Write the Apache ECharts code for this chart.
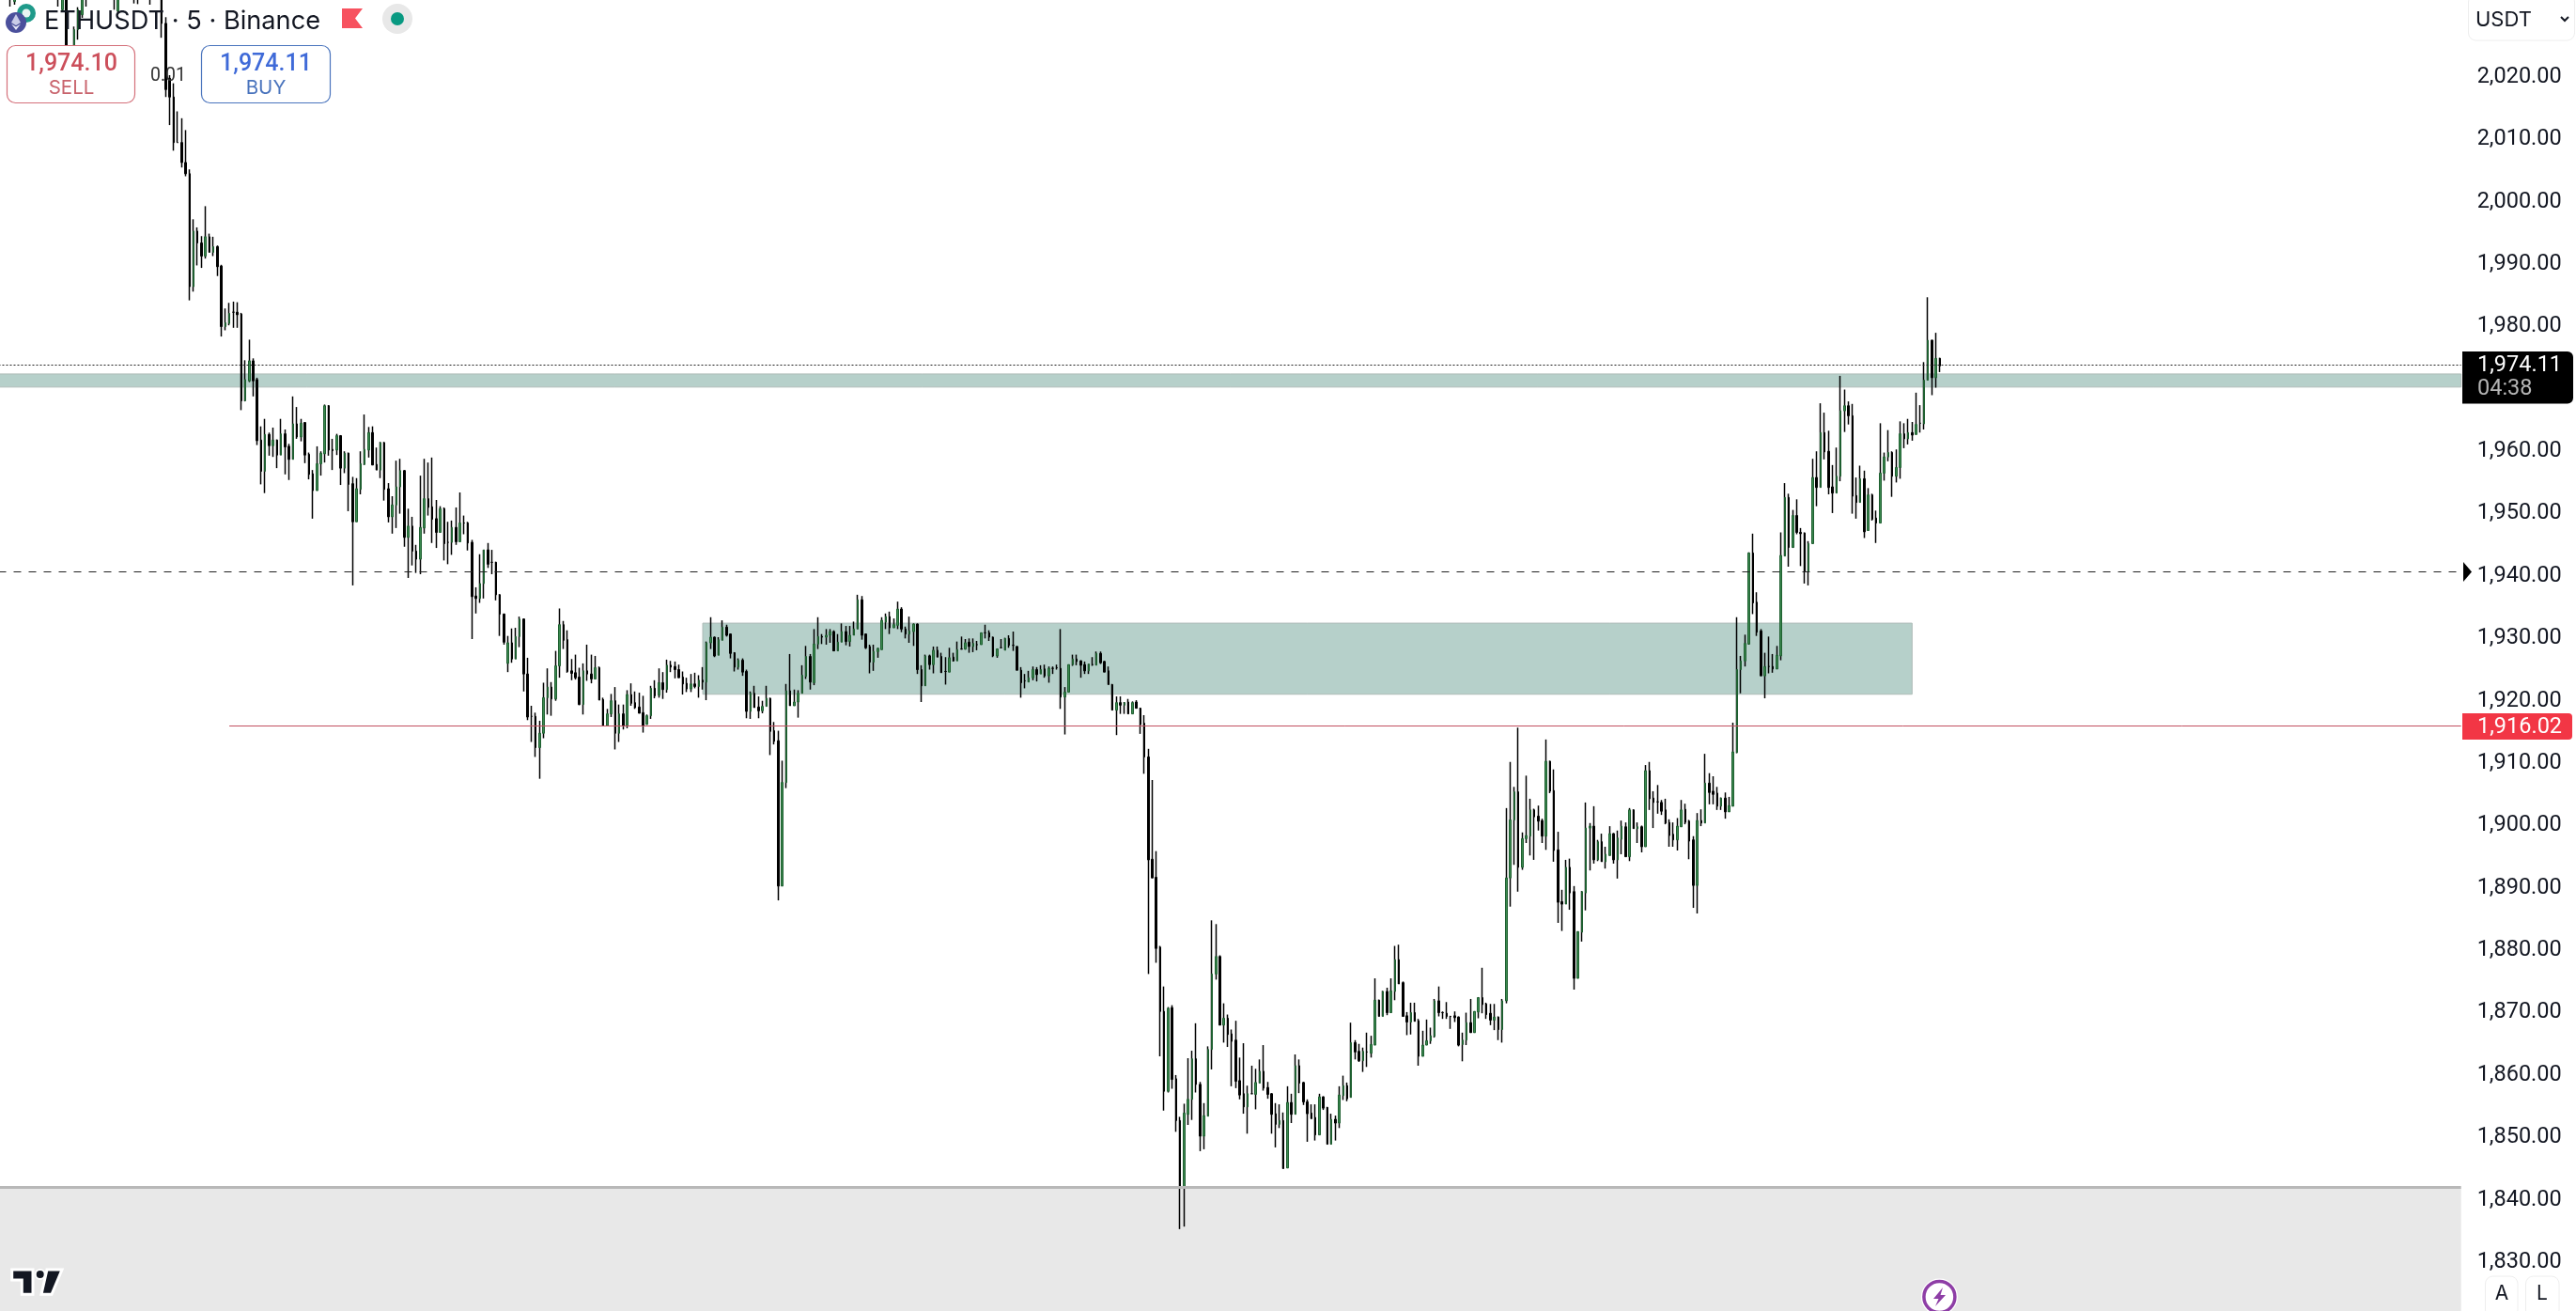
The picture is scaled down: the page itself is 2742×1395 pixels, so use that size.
<!DOCTYPE html>
<html><head><meta charset="utf-8">
<style>html,body{margin:0;padding:0;background:#fff}#c{width:2742px;height:1395px}</style>
<script src="https://cdn.jsdelivr.net/npm/echarts@6/dist/echarts.min.js"></script>
</head><body><div id="c"></div>
<script>
// every row is [open, high, low, close]
const aboveWindow=[
[2040,2042,2038,2041],[2040,2042,2038,2041],[2040,2042,2038,2041],[2037,2040,2031.3,2038],[2032.1,2038,2031.6,2036],
[2040,2042,2038,2041],[2040,2042,2038,2041],[2040,2042,2038,2041],[2040,2042,2038,2041],[2040,2042,2038,2041],
[2040,2042,2038,2041],[2040,2042,2038,2041],[2040,2042,2038,2041],[2040,2042,2038,2041],[2040,2042,2038,2041],
[2038,2041,2031.3,2036],[2030.8,2037,2030.5,2035],[2036,2038,2022,2024],[2036,2037,2034,2035],[2022,2028.1,2021,2027.6],
[2027.6,2031.2,2026,2030.8],[2030,2034,2029.5,2033.5],[2037,2040,2031.3,2038],[2040,2042,2038,2041],[2040,2042,2038,2041],
[2040,2042,2038,2041],[2040,2042,2038,2041],[2040,2042,2038,2041],[2040,2042,2038,2041],[2037,2040,2030.8,2038],
[2030.6,2037,2030.4,2036],[2040,2042,2038,2041],[2040,2042,2038,2041],[2040,2042,2038,2041],[2037,2040,2031.8,2038],
[2037,2040,2031.7,2038],[2040,2042,2038,2041],[2040,2042,2038,2041],[2037,2040,2031.6,2038],[2040,2042,2038,2041],
[2040,2042,2038,2041]];
const firstDrop=[
[2036,2038,2026.3,2028.6],[2028.6,2029.6,2016.8,2018],[2019.8,2020.3,2012.3,2016.8],[2016.8,2019,2008.2,2009.5],[2009.5,2014.5,2009.5,2009.5],
[2009.5,2013.4,2005.5,2006.3],[2006.3,2011.5,2004.1,2004.5],[2004.5,2005.2,1984.2,1986.4],[1986.4,1997.2,1985.6,1995.3],[1995.3,1995.9,1989.8,1993.4],
[1993.4,1994.5,1989.4,1991.3],[1991.3,1999.3,1990.9,1994.4],[1994.4,1994.9,1991.9,1991.9],[1991.9,1994.4,1991.3,1992.8],[1992.8,1993,1988.1,1989.6],
[1989.7,1989.9,1978.4,1980],[1980,1982.9,1979.4,1980.6],[1980.5,1983.8,1980.2,1982.1],[1982.3,1984,1979.8,1982.3],[1982.3,1983.9,1979.8,1981.9],
[1982,1982.2,1966.6,1968.1],[1968.1,1974.6,1968,1971.5],[1971.3,1977.9,1971.1,1974.5],[1974.5,1974.9,1968.8,1971.3],[1971.5,1971.8,1961,1961.7],
[1961.8,1964,1954.7,1956.8],[1956.8,1965.2,1953.3,1962.7],[1962.7,1963,1959.3,1960.9],[1960.9,1963.8,1959.1,1961.8],[1961.8,1961.9,1957.3,1959.4]];
const stepDown=[
[1959.4,1965.2,1959.4,1962.8],[1962.8,1963.5,1956.3,1960.7],[1960.8,1961.2,1955.4,1958.7],[1958.7,1968.8,1958.7,1964.4],[1964.4,1967.1,1962,1962.3],
[1962.3,1965.2,1961.6,1964.5],[1964.6,1964.7,1958.1,1959.4],[1959.5,1959.8,1955.5,1956.3],[1956.4,1957,1949.2,1953.7],[1953.7,1960.8,1953.7,1958],
[1958,1960,1956.1,1959.7],[1959.6,1967.5,1958.2,1967.3],[1967.3,1967.4,1959.3,1960.2],[1960.3,1962,1957,1960.1],[1960.2,1962.8,1959.4,1962.5],
[1962.5,1962.6,1954.6,1957.3],[1957.3,1960,1956.5,1959.7],[1959.7,1959.8,1950.4,1954.7],[1954.8,1955.9,1938.5,1948.7],[1948.7,1955.7,1948.7,1954],
[1953.9,1960,1953.1,1958],[1957.9,1965.9,1957.8,1960.3],[1960.2,1963.9,1959,1963],[1963,1964,1957.8,1957.8],[1957.9,1960.6,1957,1957],
[1957,1961.5,1955.7,1961.4],[1961.4,1961.5,1952.1,1953.9],[1954,1954.9,1948.6,1949.5],[1949.5,1952.8,1946.8,1951.4],[1951.4,1958.5,1947.7,1954.3],
[1954.3,1958.8,1950,1956.9],[1956.9,1957,1944.7,1946.2],[1946.2,1950.8,1939.7,1948],[1948,1949.5,1941.7,1944],[1944,1945,1940.5,1942.7],
[1942.7,1956.1,1940.3,1947.8],[1947.7,1958.8,1946.8,1952.4],[1952.4,1958.2,1949.7,1951],[1951.1,1959,1945.3,1949.1],[1949.2,1952.2,1944.5,1947],
[1947,1951.2,1947,1950.8],[1950.8,1951,1942.5,1945.2],[1945.4,1948.7,1941.9,1945.4],[1945.4,1948.9,1943.4,1947.8],[1947.8,1951,1945,1945.5],
[1945.5,1953.4,1945.5,1948.5],[1948.5,1949.7,1946.7,1948.5],[1948.5,1948.7,1944.1,1945.3],[1945.4,1945.8,1929.9,1936.7],[1936.8,1938.2,1934,1936.4],
[1936.4,1943.5,1935.7,1938.8],[1938.8,1944.2,1936.4,1944.2],[1944.2,1945.3,1941.3,1941.9],[1942.2,1944.2,1940.3,1942.2],[1942.2,1942.3,1936.1,1937],
[1937,1937.1,1930.4,1933.9],[1933.9,1934,1929,1929.4]];
const firstBase=[
[1926,1930.4,1924.6,1929.3],[1929.3,1931.6,1926.1,1926.7],[1926.7,1931.7,1926.7,1930.3],[1930.3,1933.5,1928.6,1933.1],[1933.1,1933.2,1921.5,1924.3],
[1924.3,1926.9,1916.9,1917.4],[1917.5,1919.2,1913.4,1917.5],[1917.5,1918.1,1911,1912.5],[1912.5,1916.8,1907.5,1914.8],[1914.8,1922.9,1914,1920.5],
[1920.5,1925.2,1917.8,1922.2],[1922.2,1923,1917.6,1920.3],[1920.3,1928,1920,1925.6],[1925.6,1934.8,1923.7,1932.2],[1932.2,1932.8,1928.3,1929.7],
[1929.8,1931.3,1924.5,1924.7],[1924.8,1926.7,1923.3,1924.4],[1924.5,1927.4,1923.4,1923.7],[1923.8,1925.3,1919.3,1919.4],[1919.4,1926,1917.8,1924.8],
[1924.8,1929,1923.2,1924.3],[1924.3,1927.4,1922.8,1923.5],[1923.5,1927.2,1923.5,1925.3],[1925.3,1925.5,1920.1,1920.1],[1920.2,1920.5,1916,1916],
[1916,1918.7,1916,1917.9],[1917.9,1921.1,1917.4,1920],[1920,1922.2,1912.2,1914.8],[1914.8,1919.4,1913.4,1917.9],[1917.9,1919.4,1915.4,1916],
[1916,1921.7,1915.6,1921],[1921,1922.8,1919.2,1919.6],[1919.7,1921.5,1918.7,1918.9],[1919,1921.3,1918,1918],[1918.1,1920.8,1914.9,1916],
[1916.2,1917.8,1916.2,1917.6],[1917.6,1922.4,1917.1,1922],[1922,1923.3,1920.4,1920.8],[1920.9,1925.2,1920.5,1922.9],[1922.9,1924.6,1920.3,1921.8],
[1921.8,1926.6,1921.3,1925.7],[1925.7,1926.4,1924.6,1925.4],[1925.5,1926.3,1923.6,1925],[1925,1925.8,1923.7,1923.7],[1923.8,1924.7,1921,1922.7],
[1922.8,1923.7,1921.4,1921.9],[1921.9,1924.3,1921.4,1922.7],[1922.7,1924.5,1922,1922.3],[1922.3,1924.1,1920.5,1923.3],[1923.3,1925.4,1921.8,1923],
[1923,1929.5,1920.1,1929.3],[1929.3,1933.4,1928.3,1930.2],[1930.2,1930.3,1927,1927.2],[1927.3,1930.2,1927.3,1929.8],[1929.7,1932.9,1929.7,1931.8],
[1931.8,1932.2,1930.3,1930.5],[1930.7,1930.8,1926.8,1927.6],[1927.7,1927.8,1924.7,1925.4],[1925.4,1926.8,1925,1926.5],[1926.5,1926.8,1924,1924.6],
[1924.7,1925,1917.2,1918.3],[1918.3,1921.5,1917.1,1921.2],[1921.2,1922.4,1918.9,1918.9],[1919,1920.7,1917.2,1918.4],[1918.4,1920,1918,1919.1],
[1919.1,1922.4,1919.1,1920.4],[1920.4,1920.5,1911.3,1915.1],[1915.2,1916.6,1913,1913.5],[1913.6,1915.2,1888,1890.3],[1890.3,1910.4,1890.3,1906.9],
[1906.9,1922.7,1906,1921.6],[1921.6,1927.5,1919.2,1919.2],[1919.2,1921.8,1919.2,1919.8],[1919.8,1921.7,1917.3,1921.2],[1921.2,1925.7,1921.2,1924.1]];
const zoneTop=[
[1923.9,1928.8,1923.5,1927.1],[1927.1,1927.5,1921.8,1923],[1922.9,1931.5,1922.5,1929.1],[1929.1,1933.4,1928.3,1930.3],[1930.3,1930.7,1929.1,1930.2],
[1930.2,1931.5,1929,1930.5],[1930.5,1931.5,1929.3,1931.1],[1931.1,1931.3,1928,1928],[1928,1930.7,1928,1929.4],[1929.4,1932.4,1929.4,1931.1],
[1931.1,1932,1928.9,1929.5],[1929.5,1932,1928.7,1930.5],[1930.5,1932.7,1930.5,1931.5],[1931.5,1937,1931.5,1936.2],[1936.2,1936.8,1929.8,1930.5],
[1930.7,1930.8,1928.3,1928.5],[1928.7,1929,1924.4,1926.2],[1926.2,1929,1924.8,1927.9],[1927.9,1928.5,1926.9,1928.4],[1928.2,1933.4,1928.2,1932.9],
[1932.6,1934,1931.5,1933.5],[1933.5,1934.3,1930.7,1931.7],[1931.7,1933.2,1931.7,1932.2],[1932.1,1935.9,1931.5,1934.7],[1934.7,1935,1931,1931.5],
[1931.5,1931.9,1930,1930.7],[1930.7,1933.5,1929.3,1931.2],[1931.1,1932.4,1928.8,1932.3],[1932.3,1932.4,1924.3,1925],[1925,1925.7,1919.8,1922.4],
[1922.4,1927.4,1922.4,1927.2],[1927.2,1927.4,1925,1925.8],[1925.8,1928.7,1924.4,1928.1],[1928.1,1928.7,1927,1927],[1927.1,1927.7,1924.5,1924.5],
[1924.7,1927,1922.6,1924.7],[1924.6,1928.5,1924.6,1926.9],[1927,1927.7,1926.3,1926.4],[1926.4,1929.5,1926.4,1928.2],[1928.3,1930.3,1928.2,1928.3],
[1928.3,1929.9,1928.2,1929.3],[1929.4,1930,1927.7,1928.7],[1928.7,1930,1927.8,1929.2],[1929,1929.6,1928.1,1929],[1929,1930.9,1929,1930.9],
[1930.9,1932.2,1930,1930.9],[1930.9,1931.3,1929.6,1930.2],[1930.2,1930.3,1927,1927.2],[1927.2,1928.4,1926.9,1928.3],[1928.5,1929.9,1928.5,1928.5],
[1928.1,1930.1,1928.1,1930],[1930,1930.5,1928.5,1928.9],[1928.9,1931.1,1928,1928.9],[1928.7,1928.8,1924.9,1924.9],[1924.9,1925.4,1920.5,1922.9],
[1923.2,1924.3,1922,1923.2],[1923,1924.8,1923,1923.7],[1923.7,1925.5,1923.3,1925],[1925,1925.4,1923.1,1924.2],[1924.3,1925.7,1924.3,1925],
[1925.1,1925.8,1923.7,1924],[1924,1925.5,1922.9,1925.2],[1925.2,1925.5,1924.3,1925.2],[1925.3,1925.8,1925,1925.3],[1925.2,1931.5,1918.7,1920.6],
[1920.6,1922.2,1914.6,1921.4],[1921.4,1925.8,1921.4,1925.8],[1925.8,1927.4,1925.6,1926.7],[1926.7,1927.4,1925.7,1926.3],[1926.4,1926.5,1923.7,1925.7],
[1925.8,1926.3,1924.3,1924.8],[1924.8,1925.9,1924.3,1925.9],[1925.8,1927,1925.6,1925.8],[1925.7,1927.9,1925.7,1927.6],[1927.6,1927.9,1925.9,1926.1],
[1926.3,1926.4,1924.6,1924.6],[1924.8,1925.5,1922.6,1922.6],[1922.6,1922.7,1918.5,1918.5],[1918.5,1920.7,1914.5,1919.7],[1919.7,1920.7,1917.9,1919.3],
[1919.3,1919.8,1917.9,1919.7],[1919.8,1920.3,1917.9,1917.9],[1917.9,1919.9,1917.9,1919.7],[1919.8,1920.1,1918.8,1918.8],[1918.8,1918.9,1914.7,1916.2]];
const crash=[
[1916.4,1917.7,1908.3,1911],[1911,1912.3,1876.2,1894.5],[1894.6,1907.3,1891.6,1891.6],[1891.7,1895.9,1878,1880.3],[1880.5,1880.7,1863,1870.2],
[1870.2,1874.2,1854.3,1857.4],[1857.4,1870.9,1857.2,1870.7],[1870.8,1871.2,1857.8,1859.3],[1859.4,1860,1850.9,1852.7],[1852.7,1853.3,1835.3,1842.1],
[1842.1,1855.4,1835.7,1853.9],[1853.7,1862.7,1852,1856.1],[1856.1,1863.9,1852.8,1862.6],[1862.6,1868.3,1857.2,1858.5],[1858.5,1858.9,1847.8,1850.2],
[1850.2,1855.5,1848.1,1853.5],[1853.4,1864.6,1853.4,1864.1],[1864.1,1884.8,1860.9,1876.2],[1876.2,1884.2,1875.3,1879],[1879,1879.2,1868,1868],
[1868,1871.5,1865.2,1869.1],[1869.1,1869.7,1864.5,1866.5],[1866.6,1867.3,1858.2,1865.4],[1865.6,1868.7,1857.9,1859],[1859.1,1862.8,1856.1,1856.8]];
const bottomRange=[
[1857,1865.1,1853.8,1854.9],[1854.9,1858.3,1850.6,1857],[1857,1861.5,1857,1857],[1856.9,1861,1854.5,1858.8],[1858.7,1862.5,1858.7,1860.6],
[1860.6,1864.8,1857.5,1857.9],[1858,1858.9,1856.2,1856.9],[1857,1857.1,1850.6,1853.7],[1853.8,1855.5,1848.4,1852.1],[1852.1,1855.3,1851.5,1852.7],
[1852.7,1854,1845,1845],[1845.1,1858.2,1845.1,1855.6],[1855.6,1857,1852.3,1853.7],[1853.7,1863.3,1853.7,1861.5],[1861.5,1862.5,1857.1,1858.7],
[1858.8,1858.9,1855.2,1855.7],[1855.7,1856.1,1849.3,1853.8],[1853.9,1855.3,1853,1853],[1853.2,1855.3,1849.5,1850.4],[1850.4,1857,1850.4,1856.5],
[1856.5,1856.6,1854.4,1854.7],[1854.8,1854.9,1848.9,1848.9],[1848.9,1853.8,1848.9,1852.9],[1852.9,1853.5,1849.5,1852.3],[1852.3,1858.2,1851.5,1856.8],
[1856.7,1859.9,1856,1858.3],[1858.3,1858.8,1855.8,1856.2],[1856.4,1868.4,1856.4,1865.2],[1865.2,1865.6,1862.5,1863.7],[1863.8,1865,1862.1,1862.3],
[1862.3,1864.4,1860.5,1863.8],[1863.7,1866.8,1861.3,1863.7],[1863.5,1866.3,1862.8,1864.9],[1864.8,1875.5,1864.8,1872],[1872,1872.1,1869.4,1869.4],
[1869.4,1873.5,1869.4,1873.4],[1873.4,1874,1869.6,1870],[1870,1875.5,1870,1873.5],[1873.4,1880.7,1872,1878.5],[1878.5,1880.9,1874.6,1874.6],
[1874.8,1875,1869.4,1869.4],[1869.5,1870.1,1866.4,1868.5],[1868.5,1871.6,1866.5,1870],[1870,1871.6,1868.6,1868.6],[1868.7,1869,1861.5,1863],
[1863,1867.1,1863,1864.8],[1864.8,1868.9,1864.8,1865.5],[1865.5,1867.6,1865,1866.3],[1866.2,1872.2,1866,1871.9],[1871.9,1874.2,1869.4,1870],
[1870,1870.2,1869,1870],[1869.9,1871.7,1869,1869.4],[1869.4,1869.5,1867.4,1869.4],[1869.5,1870.2,1868.5,1869.2],[1869.3,1869.4,1864.6,1864.8],
[1864.9,1866.8,1862.2,1865.6],[1865.6,1870,1864.8,1868.4],[1868.4,1872.2,1866.8,1866.8],[1866.8,1870.2,1866.8,1870.2],[1870.1,1872.5,1869.1,1872.4],
[1872.4,1877.2,1869.9,1871.3],[1871.4,1871.6,1869,1869.7],[1869.9,1871.4,1868,1868.8],[1868.8,1871.4,1867.2,1869.3],[1869.3,1869.4,1865.6,1867.3],
[1867.3,1872.2,1865.2,1871.9]];
const secondLeg=[
[1871.9,1902.8,1871.5,1891.6],[1891.6,1910.2,1887,1900.9],[1900.9,1906.2,1893.7,1905.4],[1905.4,1915.7,1889.4,1893.3],[1893.3,1898.9,1892.9,1897.9],
[1897.9,1908,1897.2,1898.4],[1898.3,1904.3,1895.2,1902.5],[1902.5,1902.7,1894.5,1901.4],[1901.5,1903.2,1899.2,1900.7],[1900.8,1901.1,1897.2,1898.3],
[1898.3,1913.8,1896.1,1910.3],[1910.3,1910.4,1905.2,1905.5],[1905.6,1909,1894.2,1896],[1896.1,1899,1884.4,1887.7],[1887.8,1889.7,1883.1,1887.4],
[1887.4,1894.5,1887.4,1893.3],[1893.3,1894.7,1886.5,1889.2],[1889.4,1890.3,1873.7,1875.5],[1875.5,1883,1875.5,1883],[1882.9,1889.5,1881.4,1889.4],
[1889.2,1903.7,1886.4,1899.6],[1899.6,1900.4,1892.8,1899.9],[1899.9,1903.1,1893.9,1894.5],[1894.5,1897.7,1894.3,1897.4],[1897.4,1898.7,1894.2,1894.2],
[1894.2,1896.6,1893.1,1895.4],[1895.2,1899.9,1895.2,1898.7],[1898.7,1898.8,1893.9,1894.5],[1894.5,1899.2,1891.5,1898],[1897.8,1900.8,1895.4,1899.9],
[1899.8,1900.5,1895,1895],[1895,1902.8,1894.3,1902.5],[1902.5,1902.6,1899.5,1899.5],[1899.5,1900.5,1897.2,1899.8],[1899.8,1900,1895.7,1896.6],
[1896.6,1909.7,1896.6,1908.8],[1908.8,1910.2,1902.5,1904.3],[1904.4,1905.5,1899.6,1903.7],[1903.8,1906.5,1901.9,1903.8],[1903.7,1904.1,1901.7,1902.3],
[1902.5,1904.3,1900.2,1900.4],[1900.5,1901,1896.6,1898.4],[1898.6,1900.5,1896.6,1897.7],[1897.7,1901.2,1896,1899.9],[1899.8,1904.1,1899.8,1902.5],
[1902.6,1903.5,1900.2,1900.5],[1900.7,1900.9,1894.6,1897.5],[1897.7,1898.3,1886.8,1890.4],[1890.4,1902,1885.9,1900.8],[1900.8,1902.6,1899.9,1900.4],
[1900.4,1911.5,1900.4,1906.8],[1906.8,1908.4,1903.4,1905.3],[1905.5,1907.9,1903.4,1905],[1905.2,1906.2,1902.5,1903.1],[1903.1,1904.5,1902.5,1904.4],
[1904.4,1905.3,1901.1,1902.2],[1902.2,1904.6,1902.2,1903.2],[1903.1,1916.5,1903.1,1911.8]];
const finalRally=[
[1911.7,1933.4,1911.6,1925],[1925,1927.2,1921.2,1926.4],[1926.4,1930.6,1925.5,1929.2],[1929.1,1943.8,1929,1943.7],[1943.7,1946.8,1933.9,1935.7],
[1935.8,1937.4,1930.4,1931],[1931.2,1931.5,1924,1924],[1924,1927.7,1920.4,1925.5],[1925.5,1930.3,1924.4,1925.5],[1925.5,1927.5,1924.5,1925.1],
[1925.1,1928.8,1925.1,1927.3],[1927.2,1947,1926.5,1943.3],[1943.2,1954.9,1943.2,1952.6],[1952.6,1953.2,1941.5,1944.6],[1944.6,1950.6,1944.5,1949.7],
[1949.7,1952.3,1946.7,1947],[1947,1947.7,1941.6,1946.8],[1946.9,1947,1938.8,1940.7],[1940.7,1945.6,1938.5,1945.2],[1945.2,1958.8,1945.2,1955.8],
[1955.8,1960,1951.2,1954.2],[1954.2,1967.7,1954.2,1963],[1963,1966.2,1958.7,1959.9],[1960,1963.3,1953.1,1954.2],[1954.3,1957.8,1950.1,1953.3],
[1953.3,1960.6,1953.3,1956],[1956,1972.1,1955.2,1966.5],[1966.5,1969.9,1963.1,1967.3],[1967.3,1968,1964.3,1965.7],[1965.7,1967.6,1950,1952.8],
[1952.9,1955.8,1949.2,1951.8],[1951.8,1957.7,1951.8,1955.6],[1955.6,1956.9,1946.1,1947.1],[1947.3,1954.1,1947.3,1953],[1953,1953.2,1948.9,1949.1],
[1949.3,1950.5,1945.3,1948.5],[1948.5,1964.5,1948.5,1956.5],[1956.5,1959.8,1955.3,1959.1],[1959.1,1963.4,1958.4,1959.8],[1959.8,1960,1952.7,1956],
[1956,1960.3,1955,1957.4],[1957.4,1964.8,1955.6,1962.8],[1962.8,1964.5,1960.5,1962],[1962,1965.2,1961.1,1963],[1963,1964.7,1961.7,1962.6],
[1962.7,1969.4,1962.7,1964.3],[1964.5,1967.4,1963,1964.5],[1964.4,1974.3,1963.5,1971.4],[1971.4,1984.7,1971.4,1977.8],[1977.8,1977.9,1969,1971.8],
[1971.8,1979,1970.2,1974.9],[1974.9,1975,1972.7,1973.7]];
const lastPriceLabel='1,974.11', sellPrice='1,974.10', buyPrice='1,974.11', countdown='04:38', lotSize='0.01';
const redLevel=1916.02, redLabel='1,916.02', dottedLevel=1973.8, dashedLevel=1940.7, floorLevel=1842;
const upperZone=[1970.3,1972.4], middleZone=[1921.05,1932.45];
const yTickMin=1820, yTickMax=2040, yTickStep=10;

const rows=[].concat(aboveWindow,firstDrop,stepDown,firstBase,zoneTop,crash,bottomRange,secondLeg,finalRally);
const N=620;
const cats=Array.from({length:N},(_,i)=>String(i));
const wicks=rows.map(r=>[r[0],r[3],r[2],r[1]]);
const bodies=rows.map(r=>[r[0],r[3],Math.min(r[0],r[3]),Math.max(r[0],r[3])]);
const UP='#3c8a50',UPB='#1e5f30',DN='#000';
const F='Inter, "Liberation Sans", sans-serif', D='Roboto, "Liberation Sans", sans-serif';
const txt=(text,x,y,font,fill,align)=>({type:'text',z:100,silent:true,style:{text,x,y,font,fill,align:align||'center',verticalAlign:'middle'}});
const box=(x,y,w,h,r,fill,stroke,lw)=>({type:'rect',z:100,silent:true,shape:{x,y,width:w,height:h,r},style:{fill,stroke:stroke||null,lineWidth:lw||0}});
const poly=(points,fill,stroke,lw)=>({type:'polygon',z:100,silent:true,shape:{points},style:{fill,stroke:stroke||null,lineWidth:lw||0}});
const circ=(cx,cy,r,fill,stroke,lw)=>({type:'circle',z:100,silent:true,shape:{cx,cy,r},style:{fill,stroke:stroke||null,lineWidth:lw||0}});

const chart=echarts.init(document.getElementById('c'),null,{renderer:'canvas'});
chart.setOption({
 animation:false,backgroundColor:'#fff',
 grid:{left:-1.5,top:-50.74,width:2621.16,height:1460.14,containLabel:false,outerBoundsMode:'none'},
 xAxis:{type:'category',data:cats,boundaryGap:false,show:false},
 yAxis:{type:'value',position:'right',min:yTickMin,max:yTickMax,interval:yTickStep,scale:true,
  axisLine:{show:false},axisTick:{show:false},splitLine:{show:false},
  axisLabel:{margin:17,fontFamily:D,fontSize:23.5,color:'#131722',padding:[3,0,0,0],
   formatter:v=>(v>2020||v<1830)?'':v.toLocaleString('en-US',{minimumFractionDigits:2,maximumFractionDigits:2})}},
 series:[
  {type:'line',z:1,data:[],silent:true,symbol:'none',
   markArea:{silent:true,data:[
    [{yAxis:upperZone[1],itemStyle:{color:'#b6d0ca',borderColor:'#aebbb7',borderWidth:1}},{yAxis:upperZone[0]}],
    [{xAxis:177,yAxis:middleZone[1],itemStyle:{color:'#b6d0ca',borderColor:'#aebbb7',borderWidth:1}},{xAxis:481,yAxis:middleZone[0]}],
    [{yAxis:floorLevel,itemStyle:{color:'#e8e8e8'}},{yAxis:yTickMin}]
   ]},
   markLine:{silent:true,symbol:'none',label:{show:false},animation:false,data:[
    {yAxis:dottedLevel,lineStyle:{color:'#222',type:[2,2],width:1}},
    {yAxis:dashedLevel,lineStyle:{color:'#222',type:[8,8],width:1}},
    {yAxis:floorLevel,lineStyle:{color:'#b8b8b8',type:'solid',width:3}},
    [{coord:[58,redLevel],lineStyle:{color:'#c24f60',type:'solid',width:1}},{coord:[N-1,redLevel]}]
   ]}},
  {name:'wicks',type:'candlestick',z:3,barWidth:1,data:wicks,clip:true,progressive:0,
   itemStyle:{color:DN,color0:DN,borderColor:DN,borderColor0:DN,borderColorDoji:DN,borderWidth:1.5}},
  {name:'bodies',type:'candlestick',z:4,barWidth:2,data:bodies,clip:true,progressive:0,
   itemStyle:{color:UP,color0:DN,borderColor:UPB,borderColor0:DN,borderColorDoji:DN,borderWidth:1}}
 ],
 graphic:{z:100,elements:[
  circ(28,14,10,'#1f9a8a'),circ(28,14,4.5,'#e8f5f2'),
  circ(17,24,11,'#4b509c'),poly([[17,15],[22,24],[17,27],[12,24]],'#c9cce8'),poly([[12,25.5],[17,28.5],[22,25.5],[17,32]],'#e6e8f6'),
  txt('ETHUSDT · 5 · Binance',47,23,'400 27.2px '+F,'#131722','left'),
  poly([[364,9],[386,9],[378,19.5],[386,30],[364,30]],'#f7525f'),
  circ(423,20,16,'#e8e8e8'),circ(423,20,7,'#089981'),
  box(7.5,48.5,136,61,9,'#fff','#d4707a',1.2),
  txt(sellPrice,76,69,'500 25px '+D,'#cc4f5b'),txt('SELL',76,93.5,'400 20.5px '+F,'#c9656e'),
  txt(lotSize,179,81,'400 19.5px '+D,'#333'),
  box(214.5,48.5,137,61,9,'#fff','#4a74bd',1.2),
  txt(buyPrice,283,69,'500 25px '+D,'#3f6ad8'),txt('BUY',283,93.5,'400 20.5px '+F,'#4a74bd'),
  box(2627.5,-6,113,49,8,'#fff','#eeeeee',1),
  txt('USDT',2635,21,'400 22px '+F,'#131722','left'),
  {type:'polyline',z:100,silent:true,shape:{points:[[2726,18],[2730,22],[2734,18]]},style:{stroke:'#131722',lineWidth:2,fill:null}},
  box(2621,374,118,55.5,[0,6,6,0],'#000'),
  txt(lastPriceLabel,2637,389.5,'400 23.5px '+D,'#fff','left'),txt(countdown,2637,414.5,'400 23.5px '+D,'#b4b4b4','left'),
  box(2621,759,117,28,[0,4,4,0],'#f23645'),
  txt(redLabel,2637,774,'400 23.5px '+D,'#fff','left'),
  poly([[2622,598],[2631,608.5],[2622,619]],'#000'),
  box(2645.5,1358,34.5,44,8,'#fff','#eeeeee',1),txt('A',2663,1377,'400 21px '+F,'#131722'),
  box(2688.5,1358,35.5,44,8,'#fff','#eeeeee',1),txt('L',2706,1377,'400 21px '+F,'#131722'),
  poly([[12.7,1351],[35,1351],[35,1377.3],[23.3,1377.3],[23.3,1362],[12.7,1362]],'#131722','#fff',3),
  circ(42.7,1356,5,'#131722','#fff',2),
  poly([[50,1351],[66,1351],[55,1377.3],[44,1377.3]],'#131722','#fff',3),
  circ(2064.4,1380,18,'#fff','#fff',3),circ(2064.4,1380,16.5,'#fff','#8e3ea6',3.5),
  poly([[2068,1370],[2058,1382],[2063.5,1382],[2060,1390],[2071,1378],[2065.5,1378]],'#8e3ea6')
 ]}
});
</script></body></html>
